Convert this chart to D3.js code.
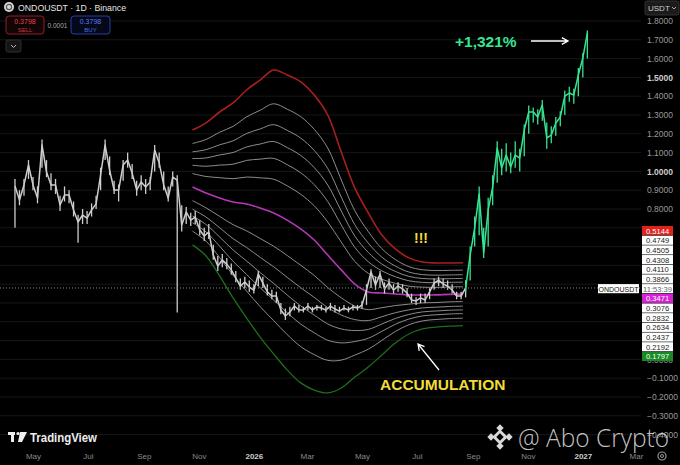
<!DOCTYPE html>
<html>
<head>
<meta charset="utf-8">
<script src="https://cdnjs.cloudflare.com/ajax/libs/d3/7.8.5/d3.min.js"></script>
<style>
  body { margin: 0; background: #000; }
  svg { display: block; font-family: "Liberation Sans", Arial, sans-serif; }
</style>
</head>
<body>
<div id="chart"></div>
<script>
var priceStart = "2025-04-11";
var priceStep = 5;
var priceHistory = [
  0.922, 0.848, 0.928, 1.034, 0.928, 0.859, 1.140, 0.997, 0.928, 0.928,
  0.821, 0.874, 0.874, 0.795, 0.731, 0.768, 0.752, 0.795, 0.827, 0.981,
  1.140, 1.007, 0.901, 0.901, 1.034, 1.061, 0.991, 0.901, 0.944, 0.917,
  0.944, 1.114, 1.045, 0.928, 0.859, 0.970, 0.954, 0.715, 0.784, 0.741,
  0.757, 0.688, 0.656, 0.678, 0.555, 0.497, 0.529, 0.507, 0.476, 0.433,
  0.390, 0.412, 0.385, 0.369, 0.454, 0.406, 0.359, 0.337, 0.337, 0.263,
  0.231, 0.252, 0.284, 0.263, 0.263, 0.284, 0.263, 0.279, 0.273, 0.263,
  0.284, 0.268, 0.257, 0.273, 0.263, 0.279, 0.273, 0.289, 0.369, 0.465,
  0.396, 0.454, 0.375, 0.406, 0.369, 0.390, 0.375, 0.353, 0.316, 0.311,
  0.327, 0.316, 0.359, 0.406, 0.422, 0.401, 0.390, 0.369, 0.337, 0.337,
  0.380
];
var historyHigh = [
  0.96, 0.90, 0.96, 1.06, 0.97, 0.92, 1.17, 1.06, 0.99, 0.96,
  0.87, 0.92, 0.90, 0.84, 0.77, 0.80, 0.79, 0.83, 0.87, 1.02,
  1.17, 1.08, 0.95, 0.93, 1.06, 1.10, 1.04, 0.95, 0.98, 0.96,
  0.97, 1.14, 1.10, 1.00, 0.92, 1.00, 0.98, 0.82, 0.81, 0.78,
  0.79, 0.74, 0.70, 0.72, 0.61, 0.55, 0.56, 0.54, 0.51, 0.47,
  0.43, 0.44, 0.42, 0.40, 0.47, 0.44, 0.40, 0.37, 0.36, 0.30,
  0.27, 0.28, 0.30, 0.29, 0.28, 0.30, 0.28, 0.29, 0.29, 0.28,
  0.30, 0.29, 0.28, 0.29, 0.28, 0.29, 0.29, 0.31, 0.40, 0.48,
  0.44, 0.47, 0.41, 0.43, 0.40, 0.41, 0.40, 0.38, 0.35, 0.33,
  0.35, 0.35, 0.38, 0.43, 0.44, 0.43, 0.42, 0.40, 0.36, 0.36,
  0.42
];
var historyLow = [
  0.70, 0.82, 0.87, 0.96, 0.90, 0.83, 1.02, 0.97, 0.90, 0.88,
  0.79, 0.84, 0.83, 0.76, 0.62, 0.72, 0.72, 0.76, 0.80, 0.90,
  1.06, 0.98, 0.88, 0.84, 0.95, 1.02, 0.96, 0.87, 0.90, 0.88,
  0.90, 1.00, 1.02, 0.90, 0.84, 0.92, 0.25, 0.68, 0.72, 0.71,
  0.72, 0.66, 0.63, 0.64, 0.53, 0.47, 0.49, 0.48, 0.45, 0.41,
  0.37, 0.38, 0.36, 0.35, 0.39, 0.38, 0.34, 0.32, 0.30, 0.24,
  0.21, 0.23, 0.26, 0.25, 0.25, 0.26, 0.25, 0.26, 0.26, 0.25,
  0.26, 0.25, 0.25, 0.26, 0.25, 0.26, 0.26, 0.27, 0.29, 0.38,
  0.37, 0.38, 0.35, 0.37, 0.35, 0.36, 0.35, 0.33, 0.30, 0.29,
  0.30, 0.30, 0.32, 0.37, 0.39, 0.38, 0.37, 0.35, 0.32, 0.32,
  0.33
];
// green projection, continues from the last history point
var priceProjection = [
  0.380, 0.555, 0.699, 0.880, 0.566, 0.795, 0.917, 1.124, 1.018, 1.087,
  1.023, 1.087, 1.071, 1.220, 1.316, 1.316, 1.289, 1.353, 1.178, 1.193,
  1.257, 1.289, 1.401, 1.417, 1.406, 1.513, 1.603, 1.737
];
var projectionHigh = [
  0.42, 0.60, 0.76, 0.92, 0.70, 0.86, 0.98, 1.16, 1.12, 1.15,
  1.10, 1.16, 1.12, 1.25, 1.35, 1.34, 1.33, 1.38, 1.26, 1.24,
  1.29, 1.32, 1.43, 1.45, 1.44, 1.55, 1.63, 1.75
];
var projectionLow = [
  0.36, 0.42, 0.60, 0.66, 0.54, 0.60, 0.82, 0.94, 0.98, 1.00,
  0.99, 1.02, 1.00, 1.08, 1.20, 1.26, 1.25, 1.27, 1.12, 1.15,
  1.19, 1.24, 1.30, 1.37, 1.36, 1.40, 1.50, 1.60
];

// bands, 15-day steps
var bandStart = "2025-10-25";
var bandStep = 15;
var upperBand = [1.220, 1.258, 1.316, 1.364, 1.433, 1.486, 1.539, 1.513, 1.476, 1.406,
                 1.300, 1.103, 0.912, 0.779, 0.662, 0.588, 0.540, 0.518, 0.513, 0.513, 0.5144];
var basisBand = [0.917, 0.885, 0.859, 0.837, 0.827, 0.805, 0.779, 0.741, 0.694, 0.635,
                 0.555, 0.476, 0.401, 0.359, 0.353, 0.348, 0.343, 0.343, 0.343, 0.346, 0.3471];
var lowerBand = [0.609, 0.550, 0.444, 0.327, 0.220, 0.119, 0.029, -0.056, -0.125, -0.163,
                 -0.178, -0.152, -0.094, -0.040, 0.023, 0.087, 0.135, 0.162, 0.172, 0.177, 0.1797];
var fibLevels = [0.236, 0.382, 0.5, 0.618, 0.764];

var lastPrice = 0.3798;
var bandLabels = ["0.5144", "0.4749", "0.4505", "0.4308", "0.4110", "0.3866", "11:53:39",
                  "0.3471", "0.3076", "0.2832", "0.2634", "0.2437", "0.2192", "0.1797"];
// 0.1 .. 0.7 sit behind the label stack
var yTicks = [-0.4, -0.3, -0.2, -0.1, 0, 0.8, 0.9, 1.0, 1.1, 1.2, 1.3, 1.4, 1.5, 1.6, 1.7, 1.8];
var gridTicks = [-0.4, -0.3, -0.2, -0.1, 0, 0.1, 0.2, 0.3, 0.4, 0.5, 0.6, 0.7, 0.8, 0.9,
                 1.0, 1.1, 1.2, 1.3, 1.4, 1.5, 1.6, 1.7, 1.8];
var xTickDates = ["2025-05-01", "2025-07-01", "2025-09-01", "2025-11-01", "2026-01-01", "2026-03-01",
                  "2026-05-01", "2026-07-01", "2026-09-01", "2026-11-01", "2027-01-01", "2027-03-01"];
var xTickLabels = ["May", "Jul", "Sep", "Nov", "2026", "Mar", "May", "Jul", "Sep", "Nov", "2027", "Mar"];

var W = 680, H = 465;
var parse = d3.timeParse("%Y-%m-%d");
var svg = d3.select("#chart").append("svg").attr("width", W).attr("height", H);
svg.append("rect").attr("width", W).attr("height", H).attr("fill", "#000");

var x = d3.scaleTime().domain([parse("2025-05-01"), parse("2027-03-01")]).range([33, 636]);
var y = d3.scaleLinear().domain([0, 1.8]).range([359.4, 21]);

svg.append("clipPath").attr("id", "plot").append("rect")
  .attr("x", 0).attr("y", 0).attr("width", 641).attr("height", H);
var plot = svg.append("g").attr("clip-path", "url(#plot)");

// grid
plot.selectAll(".grid").data(gridTicks).enter().append("line")
  .attr("x1", 0).attr("x2", 641)
  .attr("y1", d => y(d)).attr("y2", d => y(d))
  .attr("stroke", "#171717").attr("stroke-width", 1);

// bands
var bandDates = upperBand.map((d, i) => d3.timeDay.offset(parse(bandStart), i * bandStep));
var bandLine = d3.line().x((d, i) => x(bandDates[i])).y(d => y(d)).curve(d3.curveCatmullRom);

var innerBands = [];
fibLevels.forEach(f => innerBands.push(basisBand.map((b, i) => b + f * (upperBand[i] - b))));
fibLevels.forEach(f => innerBands.push(basisBand.map((b, i) => b - f * (b - lowerBand[i]))));

plot.selectAll(".fib").data(innerBands).enter().append("path")
  .attr("d", bandLine).attr("fill", "none").attr("stroke", "#9c9c9c").attr("stroke-width", 0.9);
plot.append("path").attr("d", bandLine(upperBand)).attr("fill", "none")
  .attr("stroke", "#a81f1f").attr("stroke-width", 1.6);
plot.append("path").attr("d", bandLine(lowerBand)).attr("fill", "none")
  .attr("stroke", "#1d6e1d").attr("stroke-width", 1.3);
plot.append("path").attr("d", bandLine(basisBand)).attr("fill", "none")
  .attr("stroke", "#b636b8").attr("stroke-width", 1.6);

// price
function series(close, high, low, start) {
  return close.map((v, i) => ({ date: d3.timeDay.offset(start, i * priceStep), v: v, h: high[i], l: low[i] }));
}
var hist = series(priceHistory, historyHigh, historyLow, parse(priceStart));
var proj = series(priceProjection, projectionHigh, projectionLow, hist[hist.length - 1].date);
var priceLine = d3.line().x(d => x(d.date)).y(d => y(d.v));

function drawPrice(data, color) {
  plot.append("g").selectAll("line").data(data).enter().append("line")
    .attr("x1", d => x(d.date)).attr("x2", d => x(d.date))
    .attr("y1", d => y(d.h)).attr("y2", d => y(d.l))
    .attr("stroke", color).attr("stroke-width", 1.3);
  plot.append("path").attr("d", priceLine(data)).attr("fill", "none")
    .attr("stroke", color).attr("stroke-width", 1.5).attr("stroke-linejoin", "round");
}
drawPrice(hist, "#cdcdcd");
drawPrice(proj, "#35e591");

// current price dotted line
plot.append("line").attr("x1", 0).attr("x2", 641)
  .attr("y1", y(lastPrice)).attr("y2", y(lastPrice))
  .attr("stroke", "#8a8a8a").attr("stroke-width", 1).attr("stroke-dasharray", "1,2");

// right axis
var yAxis = svg.append("g").attr("transform", "translate(643,0)")
  .call(d3.axisRight(y).tickValues(yTicks).tickFormat(d3.format(".4f")).tickSize(0).tickPadding(4));
yAxis.attr("font-family", null);
yAxis.select(".domain").remove();
yAxis.selectAll("text").attr("fill", "#9a9a9a").style("font-size", "8.5px");
yAxis.selectAll("text").filter(d => d === 1 || d === 1.5).attr("fill", "#cfcfcf").attr("font-weight", "bold");

// bottom axis
var xAxis = svg.append("g").attr("transform", "translate(0,449)")
  .call(d3.axisBottom(x).tickValues(xTickDates.map(parse)).tickFormat((d, i) => xTickLabels[i]).tickSize(0).tickPadding(4));
xAxis.attr("font-family", null);
xAxis.select(".domain").remove();
xAxis.selectAll("text").attr("fill", "#8a8a8a").style("font-size", "8px");
xAxis.selectAll("text").filter((d, i) => /^\d+$/.test(xTickLabels[i]))
  .attr("fill", "#cfcfcf").attr("font-weight", "bold");

// stacked labels
var rows = d3.scaleBand().domain(d3.range(bandLabels.length)).range([226, 361]).paddingInner(0.06);
var fills = { 0: "#e0211c", 7: "#d523d5", 13: "#178a24" };
var lab = svg.selectAll(".lab").data(bandLabels).enter().append("g")
  .attr("transform", (d, i) => "translate(642," + rows(i) + ")");
lab.append("rect").attr("width", 31).attr("height", rows.bandwidth())
  .attr("fill", (d, i) => fills[i] || "#fff");
lab.append("text").attr("x", 15.5).attr("y", rows.bandwidth() / 2 + 3)
  .attr("text-anchor", "middle").style("font-size", "7.6px")
  .attr("fill", (d, i) => fills[i] ? "#fff" : (i === 6 ? "#666" : "#222"))
  .text(d => d);
svg.append("rect").attr("x", 598).attr("y", rows(6)).attr("width", 41).attr("height", rows.bandwidth())
  .attr("fill", "#fff");
svg.append("text").attr("x", 618.5).attr("y", rows(6) + rows.bandwidth() / 2 + 3)
  .attr("text-anchor", "middle").style("font-size", "7px").attr("fill", "#111").text("ONDOUSDT");

// header
svg.append("circle").attr("cx", 9).attr("cy", 7).attr("r", 5).attr("fill", "#d8d8d8");
svg.append("circle").attr("cx", 9).attr("cy", 7).attr("r", 2.6).attr("fill", "none")
  .attr("stroke", "#555").attr("stroke-width", 1.2);
svg.append("text").attr("x", 18).attr("y", 11).style("font-size", "9.5px").attr("fill", "#e6e6e6")
  .attr("textLength", 108).attr("lengthAdjust", "spacingAndGlyphs")
  .text("ONDOUSDT · 1D · Binance");
svg.append("rect").attr("x", 6).attr("y", 16).attr("width", 38).attr("height", 18).attr("rx", 3)
  .attr("fill", "#120506").attr("stroke", "#8f1e2b");
svg.append("text").attr("x", 25).attr("y", 24).attr("text-anchor", "middle").style("font-size", "7px")
  .attr("fill", "#e2434f").text("0.3798");
svg.append("text").attr("x", 25).attr("y", 31.5).attr("text-anchor", "middle").style("font-size", "6px")
  .attr("fill", "#c83a46").text("SELL");
svg.append("text").attr("x", 57.5).attr("y", 27.5).attr("text-anchor", "middle").style("font-size", "6.5px")
  .attr("fill", "#aaa").text("0.0001");
svg.append("rect").attr("x", 71).attr("y", 16).attr("width", 39).attr("height", 18).attr("rx", 3)
  .attr("fill", "#05081a").attr("stroke", "#2b3f9c");
svg.append("text").attr("x", 90.5).attr("y", 24).attr("text-anchor", "middle").style("font-size", "7px")
  .attr("fill", "#5b7cf0").text("0.3798");
svg.append("text").attr("x", 90.5).attr("y", 31.5).attr("text-anchor", "middle").style("font-size", "6px")
  .attr("fill", "#5070e0").text("BUY");
svg.append("rect").attr("x", 6).attr("y", 40).attr("width", 15).attr("height", 12).attr("rx", 2)
  .attr("fill", "#151515").attr("stroke", "#2e2e2e");
svg.append("path").attr("d", "M11,45 L13.5,47.5 L16,45").attr("fill", "none").attr("stroke", "#bbb");

// USDT box
svg.append("rect").attr("x", 645).attr("y", 1).attr("width", 34).attr("height", 14).attr("rx", 2)
  .attr("fill", "#1b1b1b").attr("stroke", "#333");
svg.append("text").attr("x", 648).attr("y", 11).style("font-size", "8px").attr("fill", "#ccc").text("USDT");
svg.append("path").attr("d", "M672,7 L674,9 L676,7").attr("fill", "none").attr("stroke", "#aaa");

// annotations
function arrow(x1, y1, x2, y2) {
  var a = Math.atan2(y2 - y1, x2 - x1), L = 7;
  svg.append("path")
    .attr("d", "M" + x1 + "," + y1 + "L" + x2 + "," + y2 +
      "M" + (x2 - L * Math.cos(a - 0.5)) + "," + (y2 - L * Math.sin(a - 0.5)) +
      "L" + x2 + "," + y2 +
      "L" + (x2 - L * Math.cos(a + 0.5)) + "," + (y2 - L * Math.sin(a + 0.5)))
    .attr("fill", "none").attr("stroke", "#fff").attr("stroke-width", 1.3);
}
svg.append("text").attr("x", 455).attr("y", 47).style("font-size", "15.5px").attr("font-weight", "bold")
  .attr("fill", "#35e591").text("+1,321%");
arrow(531, 41, 568, 41);
svg.append("text").attr("x", 414).attr("y", 243).style("font-size", "14px").attr("font-weight", "bold")
  .attr("fill", "#f2dc36").text("!!!");
svg.append("text").attr("x", 380).attr("y", 390).style("font-size", "15.5px").attr("font-weight", "bold")
  .attr("fill", "#f2dc36").text("ACCUMULATION");
arrow(439, 370, 418, 344);

// TradingView logo
svg.append("rect").attr("x", 8).attr("y", 432).attr("width", 7).attr("height", 3).attr("fill", "#eee");
svg.append("rect").attr("x", 11).attr("y", 432).attr("width", 3).attr("height", 10).attr("fill", "#eee");
svg.append("circle").attr("cx", 18).attr("cy", 433.5).attr("r", 1.6).attr("fill", "#eee");
svg.append("path").attr("d", "M20,432 L27,432 L22,442 L18,442 Z").attr("fill", "#eee");
svg.append("text").attr("x", 30).attr("y", 442).style("font-size", "12px").attr("font-weight", "bold")
  .attr("textLength", 67).attr("lengthAdjust", "spacingAndGlyphs")
  .attr("fill", "#eee").text("TradingView");

// watermark
var wm = svg.append("g").attr("transform", "translate(500,437)").attr("fill", "#d9d9d9");
[[0, 0, 5.5], [-9, 0, 2.6], [9, 0, 2.6], [0, -9, 2.6], [0, 9, 2.6]].forEach(function (p) {
  wm.append("rect").attr("x", p[0] - p[2]).attr("y", p[1] - p[2]).attr("width", p[2] * 2).attr("height", p[2] * 2)
    .attr("transform", "rotate(45," + p[0] + "," + p[1] + ")");
});
wm.append("rect").attr("x", -2.6).attr("y", -2.6).attr("width", 5.2).attr("height", 5.2)
  .attr("transform", "rotate(45)").attr("fill", "#000");
svg.append("text").attr("x", 518).attr("y", 447).style("font-size", "25px").attr("font-weight", 300)
  .attr("textLength", 151).attr("lengthAdjust", "spacingAndGlyphs")
  .attr("font-family", "'Open Sans', 'Noto Sans', sans-serif").attr("fill", "#dcdcdc").attr("fill-opacity", 0.9)
  .text("@ Abo Crypto");

// settings gear
svg.append("circle").attr("cx", 662).attr("cy", 456).attr("r", 4).attr("fill", "none").attr("stroke", "#999").attr("stroke-width", 1.2);
svg.append("circle").attr("cx", 662).attr("cy", 456).attr("r", 1.5).attr("fill", "none").attr("stroke", "#999");
</script>
</body>
</html>
